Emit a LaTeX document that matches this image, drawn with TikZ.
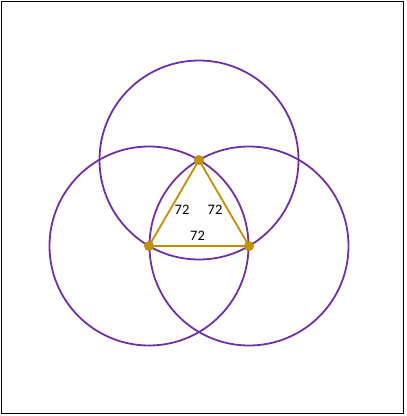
\documentclass[tikz,border=0pt]{standalone}
\usepackage{fontspec}
\setmainfont{Carlito}
\usetikzlibrary{calc}
\definecolor{violet}{HTML}{7030A0}
\definecolor{ocre}{HTML}{BF9000}

\begin{document}
\begin{tikzpicture}[x=1pt, y=-1pt]
  \tikzstyle{cercle}=[violet, line width=1.8pt];
  \tikzstyle{cote}=[ocre, line width=1.8pt];
  \tikzstyle{point}=[circle, fill=ocre, minimum size=10pt, inner sep=0];
  \tikzstyle{longueur}=[font=\fontsize{14.5}{16}\selectfont, inner sep=0];

  \useasboundingbox (0, 0) rectangle (407, 416);
  \draw[line width=1.2pt] (1.5, 1.5) rectangle (403.5, 413.5);

  \coordinate (A) at (199, 160);
  \coordinate (B) at (149, 246);
  \coordinate (C) at (249, 246);

  \foreach \S in {A, B, C} {
    \draw[cercle] (\S) circle (99.5);
  }
  \draw[cote] (A) -- (B) -- (C) -- cycle;
  \foreach \S in {A, B, C} {
    \node[point] (p\S) at (\S) {};
  }
  \node[longueur] (lAB) at (182, 210) {72};
  \node[longueur] (lAC) at (215, 210) {72};
  \node[longueur] (lBC) at (197.5, 236) {72};
\end{tikzpicture}
\end{document}
